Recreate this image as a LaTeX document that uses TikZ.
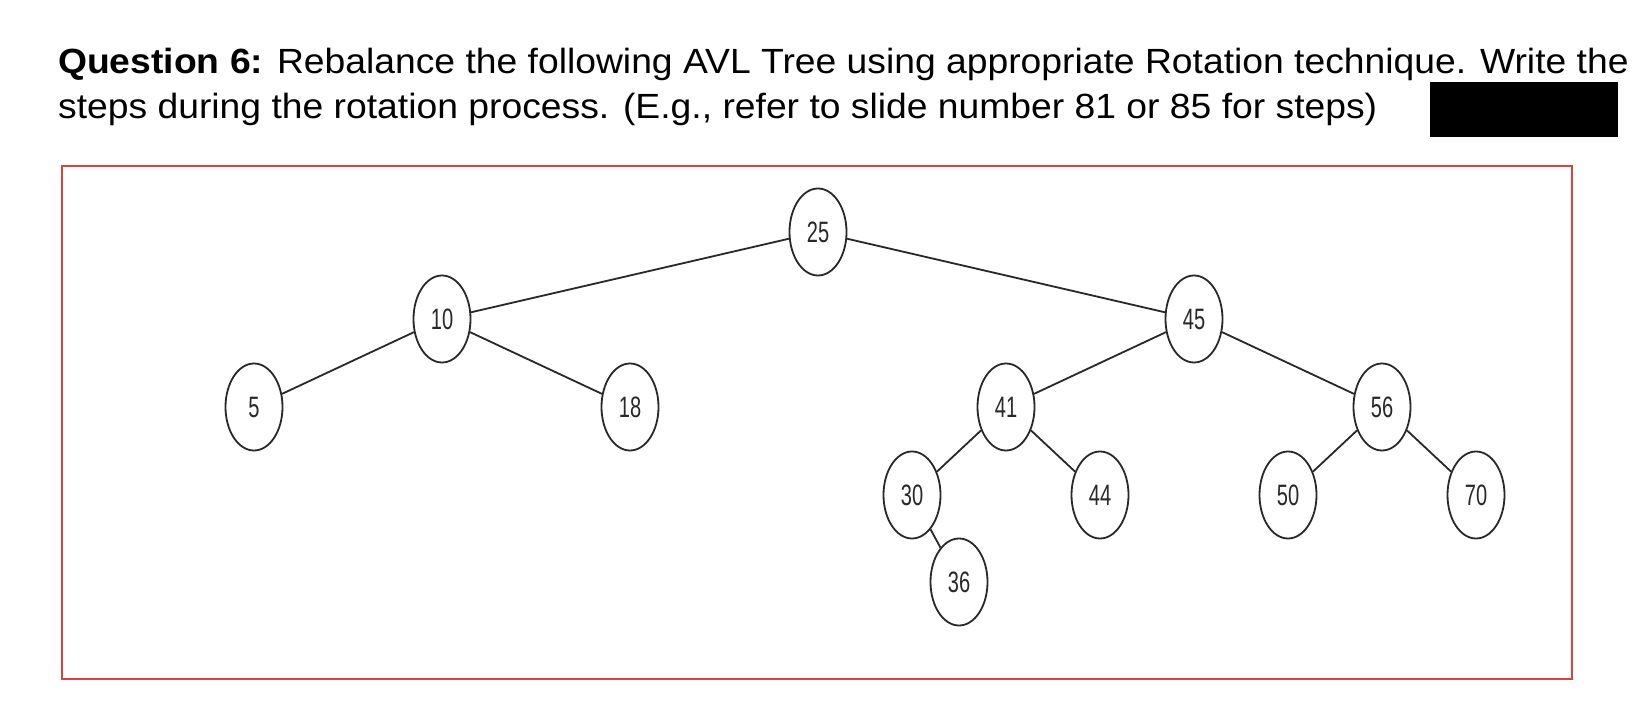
\documentclass[tikz,border=0pt]{standalone}
\usepackage{fontspec}
\setmainfont{Liberation Sans}[FakeStretch=1.065]
\newfontfamily\numfont[FakeStretch=0.68]{Liberation Sans}
\usetikzlibrary{shapes.geometric}
\definecolor{boxred}{RGB}{217,68,58}
\definecolor{inkgray}{RGB}{40,40,40}
\tikzset{
  avl/.style={ellipse, draw=inkgray, line width=1.8pt, minimum width=57pt, minimum height=87pt, inner sep=0pt, font=\numfont\fontsize{29.5}{34}\selectfont, text=inkgray},
  link/.style={draw=inkgray, line width=1.8pt},
  head/.style={anchor=base west, inner sep=0pt, font=\fontsize{35}{42}\selectfont}
}
\begin{document}
\begin{tikzpicture}[x=1pt,y=-1pt]
\useasboundingbox (0,0) rectangle (1650,708);
\fill[white] (0,0) rectangle (1650,708);
% header
\node[head] (l1) at (58,74) {\textbf{Question 6:} Rebalance the following AVL Tree using appropriate Rotation technique. Write the};
\node[head] (l2) at (58,119) {steps during the rotation process. (E.g., refer to slide number 81 or 85 for steps)};
\fill[black] (1430,82) rectangle (1618,137);
% frame
\draw[boxred, line width=2pt] (62,166) rectangle (1572,679);
% nodes
\node[avl] (n25) at (818,232) {25};
\node[avl] (n10) at (442,319) {10};
\node[avl] (n45) at (1194,319) {45};
\node[avl] (n5) at (254,407) {5};
\node[avl] (n18) at (630,407) {18};
\node[avl] (n41) at (1006,407) {41};
\node[avl] (n56) at (1382,407) {56};
\node[avl] (n30) at (912,495) {30};
\node[avl] (n44) at (1100,495) {44};
\node[avl] (n50) at (1288,495) {50};
\node[avl] (n70) at (1476,495) {70};
\node[avl] (n36) at (959,582) {36};
% edges
\draw[link] (n25) -- (n10);
\draw[link] (n25) -- (n45);
\draw[link] (n10) -- (n5);
\draw[link] (n10) -- (n18);
\draw[link] (n45) -- (n41);
\draw[link] (n45) -- (n56);
\draw[link] (n41) -- (n30);
\draw[link] (n41) -- (n44);
\draw[link] (n56) -- (n50);
\draw[link] (n56) -- (n70);
\draw[link] (n30) -- (n36);
\end{tikzpicture}
\end{document}
